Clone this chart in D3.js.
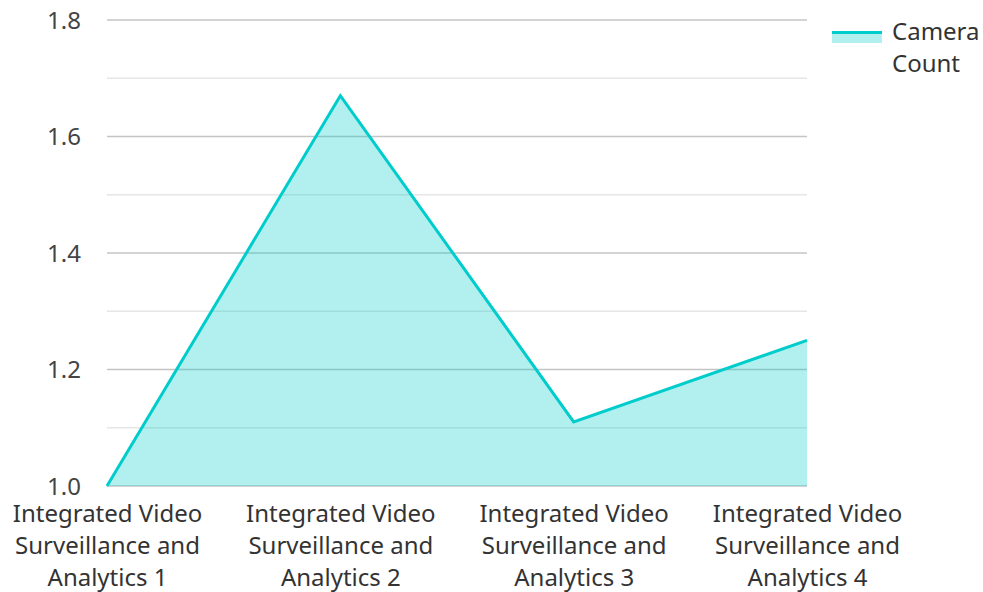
<!DOCTYPE html>
<html><head><meta charset="utf-8">
<script src="https://cdn.jsdelivr.net/npm/d3@7"></script>
<style>body{margin:0;background:#fff}svg{display:block}</style>
</head><body>
<svg id="c" width="983" height="592"></svg>
<script>
const categories = ["Integrated Video Surveillance and Analytics 1","Integrated Video Surveillance and Analytics 2","Integrated Video Surveillance and Analytics 3","Integrated Video Surveillance and Analytics 4"];
const cameraCount = [1.0, 1.67, 1.11, 1.25];
const yTicks = [1.0, 1.2, 1.4, 1.6, 1.8];
const yMinorTicks = [1.1, 1.3, 1.5, 1.7];
const seriesName = ["Camera", "Count"];

const svg = d3.select("#c");
const font = "'Noto Sans', 'Open Sans', sans-serif";
const L = 107, R = 807, T = 20, B = 486;
const x = d3.scalePoint().domain(categories).range([L, R]);
const y = d3.scaleLinear().domain([1.0, 1.8]).range([B, T]);
const color = "#00CCCC";

const g = svg.append("g");
g.selectAll(".minor").data(yMinorTicks).enter().append("line")
  .attr("x1", L).attr("x2", R).attr("y1", d => y(d)).attr("y2", d => y(d))
  .attr("stroke", "#e6e6e6").attr("stroke-width", 1.5);
g.selectAll(".major").data(yTicks).enter().append("line")
  .attr("x1", L).attr("x2", R).attr("y1", d => y(d)).attr("y2", d => y(d))
  .attr("stroke", "#c4c4c4").attr("stroke-width", 1.5);

const data = categories.map((c, i) => ({c, v: cameraCount[i]}));
g.append("path").datum(data)
  .attr("d", d3.area().x(d => x(d.c)).y0(y(1.0)).y1(d => y(d.v)))
  .attr("fill", color).attr("fill-opacity", 0.3);
g.append("path").datum(data)
  .attr("d", d3.line().x(d => x(d.c)).y(d => y(d.v)))
  .attr("fill", "none").attr("stroke", color).attr("stroke-width", 3).attr("stroke-linejoin", "miter");

const yAxis = d3.axisLeft(y).tickValues(yTicks).tickFormat(d3.format(".1f")).tickSize(0).tickPadding(26);
const ya = svg.append("g").attr("transform", `translate(${L},0)`).call(yAxis);
ya.select(".domain").remove();
ya.selectAll("text").attr("font-family", font).attr("font-size", 24).attr("fill", "#444").attr("dy", "0.34em");

const xa = svg.append("g").attr("transform", `translate(0,${B})`).call(d3.axisBottom(x).tickSize(0).tickFormat(""));
xa.select(".domain").remove();
xa.selectAll(".tick").each(function(d) {
  const words = d.split(" ");
  const lines = [words.slice(0,2).join(" "), words.slice(2,4).join(" "), words.slice(4).join(" ")];
  const t = d3.select(this).append("text").attr("text-anchor", "middle")
    .attr("font-family", font).attr("font-size", 24).attr("fill", "#333");
  lines.forEach((ln, i) => t.append("tspan").attr("x", 0).attr("y", 36 + i * 32).text(ln));
});

const lg = svg.append("g");
lg.append("rect").attr("x", 832).attr("y", 31).attr("width", 50).attr("height", 12).attr("fill", color).attr("fill-opacity", 0.3);
lg.append("line").attr("x1", 832).attr("x2", 882).attr("y1", 32.5).attr("y2", 32.5).attr("stroke", color).attr("stroke-width", 3);
seriesName.forEach((s, i) => lg.append("text").attr("x", 892).attr("y", 40 + i * 32)
  .attr("font-family", font).attr("font-size", 24).attr("fill", "#333").text(s));
</script>
</body></html>
